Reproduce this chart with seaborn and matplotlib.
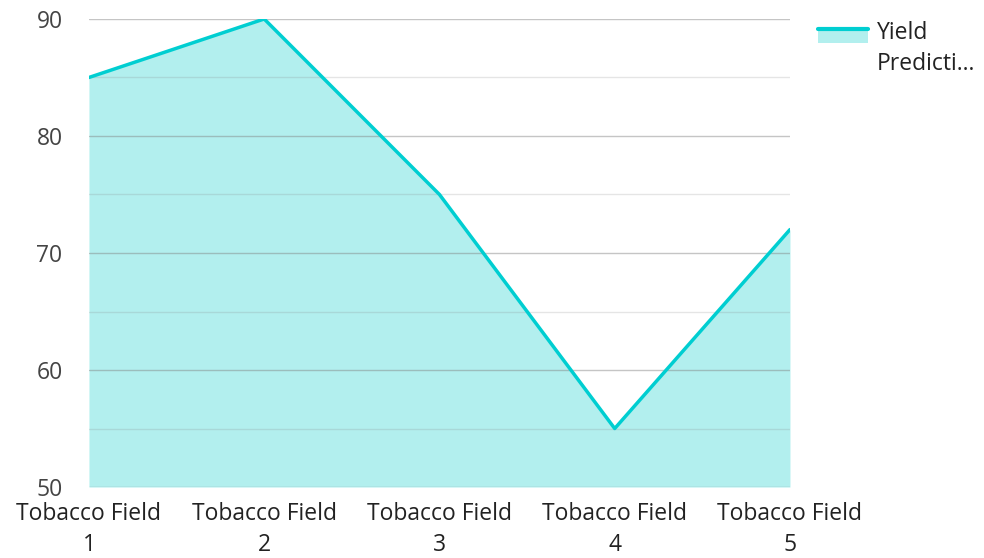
import numpy as np
import matplotlib.pyplot as plt
import seaborn as sns
import pandas as pd
from matplotlib.patches import Rectangle
from matplotlib.lines import Line2D

fields = ["Tobacco Field\n1", "Tobacco Field\n2", "Tobacco Field\n3",
          "Tobacco Field\n4", "Tobacco Field\n5"]
yield_pred = [85, 90, 75, 55, 72]
series_name = "Yield\nPredicti..."

line_color = "#00CED1"
fill_color = "#B2EFEE"


class AreaHandler:
    # legend key: light fill with the line along its top, aligned to the first text line
    def legend_artist(self, legend, orig_handle, fontsize, handlebox):
        x0, y0 = handlebox.xdescent, handlebox.ydescent + 11
        w, h = handlebox.width, handlebox.height
        rect = Rectangle((x0, y0), w, h, facecolor=fill_color, edgecolor="none",
                         transform=handlebox.get_transform())
        ln = Line2D([x0, x0 + w], [y0 + h, y0 + h], color=line_color, lw=3,
                    transform=handlebox.get_transform())
        handlebox.add_artist(rect)
        handlebox.add_artist(ln)
        return rect


sns.set_style("white")
plt.rcParams["font.family"] = ["Open Sans", "DejaVu Sans"]

df = pd.DataFrame({"x": np.arange(len(fields)), "y": yield_pred})

fig = plt.figure(figsize=(9.84, 5.58), dpi=100)
ax = fig.add_axes([0.0904, 0.1272, 0.7124, 0.8388])

area = ax.fill_between(df["x"], df["y"], 50, color=fill_color, lw=0, zorder=1)
sns.lineplot(data=df, x="x", y="y", color=line_color, lw=2.5, ax=ax, zorder=3)

ax.set_ylim(50, 90)
ax.set_xlim(0, len(fields) - 1)
ax.set_yticks([50, 60, 70, 80, 90])
ax.set_yticks([55, 65, 75, 85], minor=True)
ax.grid(True, which="major", axis="y", color="#808080", alpha=0.45, lw=1, zorder=2)
ax.grid(True, which="minor", axis="y", color="#808080", alpha=0.2, lw=1, zorder=2)
ax.set_axisbelow(False)
ax.set_xticks(df["x"])
ax.set_xticklabels(fields)
ax.tick_params(axis="y", which="both", length=0, pad=19, labelsize=16.5, labelcolor="#444444")
ax.tick_params(axis="x", length=0, pad=11, labelsize=16.5, labelcolor="#222222")
for lbl in ax.get_xticklabels():
    lbl.set_linespacing(1.35)
ax.set_xlabel("")
ax.set_ylabel("")
for s in ax.spines.values():
    s.set_visible(False)

leg = fig.legend([area], [series_name], handler_map={type(area): AreaHandler()},
                 loc="upper left", bbox_to_anchor=(0.81, 1.0), frameon=False,
                 fontsize=16.5, labelcolor="#222222", handlelength=2.2, handleheight=0.55,
                 handletextpad=0.4)
for t in leg.get_texts():
    t.set_linespacing(1.4)

fig.savefig("out.png", dpi=100)
